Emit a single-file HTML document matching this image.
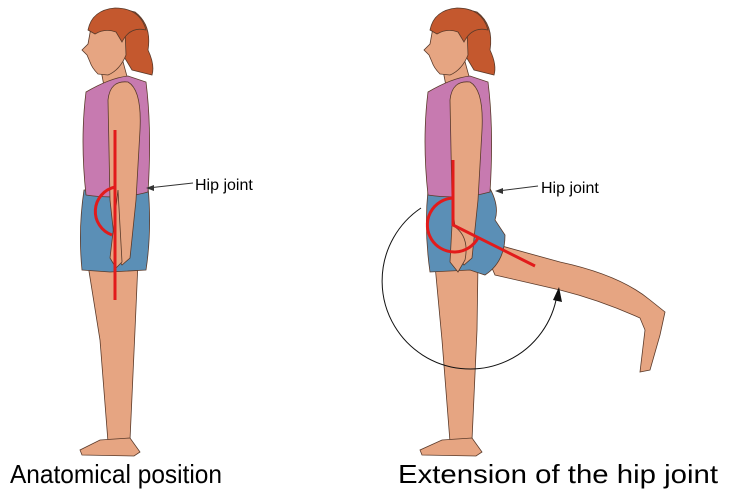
<!DOCTYPE html>
<html><head><style>
html,body{margin:0;padding:0;background:#fff;width:750px;height:500px;overflow:hidden}
</style></head><body>
<svg width="750" height="500" viewBox="0 0 750 500" xmlns="http://www.w3.org/2000/svg" font-family="Liberation Sans, sans-serif">
<defs>
<g id="upper" stroke="#5a3a2a" stroke-width="0.8">
  <path d="M95,20 Q110,5 135,12 Q152,25 148,50 Q155,65 152,75 Q140,72 132,70 L120,50 Z" fill="#c4582e"/>
  <path d="M100,65 L122,58 L128,80 L104,86 Z" fill="#e6a582"/>
  <path d="M92,22 Q115,14 125,30 L126,55 Q120,70 108,75 L98,74 Q92,68 90,62 L87,55 L82,50 L88,44 Z" fill="#e6a582"/>
  <path d="M88,30 Q92,10 115,8 Q140,8 146,30 Q130,26 122,42 L116,32 Q105,28 95,34 Z" fill="#c4582e"/>
  <path d="M86,92 Q110,78 128,76 L146,82 Q152,130 148,192 Q120,200 86,195 Q80,140 86,92 Z" fill="#c77ab0"/>
  <path d="M108,100 Q110,80 128,82 Q142,90 140,130 L136,200 L130,258 L122,265 L116,255 L110,200 Z" fill="#e6a582"/>
</g>
</defs>

<g stroke="#5a3a2a" stroke-width="0.8">
  <path d="M88,265 L138,262 L135,330 L130,440 L108,442 L100,340 Z" fill="#e6a582"/>
  <path d="M100,440 L130,438 L140,452 L134,456 L82,455 L80,450 Z" fill="#e6a582"/>
  <path d="M84,190 L148,186 Q152,230 146,270 L110,272 L82,270 Q78,230 84,190 Z" fill="#5b8fb6"/>
</g>
<use href="#upper"/>
<path d="M118,190 L122,262 L116,268 L110,258 Z" fill="#e6a582" stroke="#5a3a2a" stroke-width="0.8"/>
<g stroke="#e21b1b" stroke-width="3" fill="none">
  <line x1="115" y1="130" x2="115" y2="300"/>
  <path d="M115,187 A25,25 0 0 0 112,235"/>
</g>
<line x1="193" y1="183" x2="148" y2="188" stroke="#333" stroke-width="1"/>
<path d="M146,188 L154,185 L154,191 Z" fill="#333"/>
<text x="195" y="190" font-size="16">Hip joint</text>

<g stroke="#5a3a2a" stroke-width="0.8">
  <path d="M435,265 L478,262 L477,330 L472,440 L450,442 L442,340 Z" fill="#e6a582"/>
  <path d="M442,440 L472,438 L482,452 L476,456 L422,455 L420,450 Z" fill="#e6a582"/>
  <path d="M480,240 L560,262 Q620,275 650,300 L665,312 L660,335 L650,370 L640,372 L645,330 L640,318 Q600,300 560,290 L495,275 Z" fill="#e6a582"/>
  <path d="M428,190 L488,185 Q500,205 495,220 L505,235 Q505,262 485,275 L470,270 L430,272 Q424,230 428,190 Z" fill="#5b8fb6"/>
</g>
<use href="#upper" transform="translate(342,0)"/>
<path d="M452,225 Q470,235 465,260 L458,272 L450,262 Z" fill="#e6a582" stroke="#5a3a2a" stroke-width="0.8"/>
<g stroke="#e21b1b" stroke-width="3" fill="none">
  <polyline points="453,160 453,225 535,266"/>
  <path d="M453,198 A27,27 0 1 0 478,238"/>
</g>
<path d="M421,208 A88,88 0 1 0 557,295" fill="none" stroke="#111" stroke-width="1"/>
<path d="M559,287 L553,300 L562,302 Z" fill="#111"/>
<line x1="538" y1="186" x2="498" y2="191" stroke="#333" stroke-width="1"/>
<path d="M495,191 L503,188 L503,194 Z" fill="#333"/>
<text x="541" y="193" font-size="16">Hip joint</text>

<text x="10" y="483" font-size="26" textLength="212" lengthAdjust="spacingAndGlyphs">Anatomical position</text>
<text x="398" y="483" font-size="26" textLength="320" lengthAdjust="spacingAndGlyphs">Extension of the hip joint</text>
</svg>
</body></html>
